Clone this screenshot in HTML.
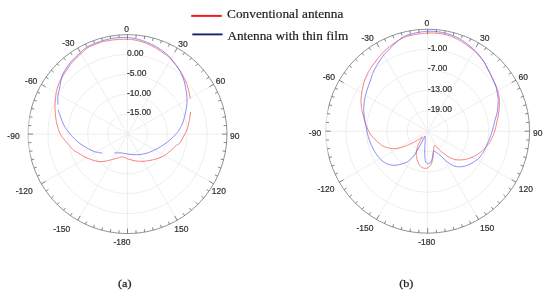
<!DOCTYPE html>
<html><head><meta charset="utf-8"><style>
html,body{margin:0;padding:0;background:#fff;}
body{width:550px;height:297px;overflow:hidden;}
svg{display:block;filter:blur(0.3px);}
.g{fill:none;stroke:#eaeaea;stroke-width:0.8;}
.o{fill:none;stroke:#6e6e6e;stroke-width:0.75;}
.t{fill:none;stroke:#666;stroke-width:0.8;}
.rl{font-family:"Liberation Sans",Arial,sans-serif;font-size:8.5px;fill:#2e2e2e;stroke:#2e2e2e;stroke-width:0.2px;}
.al{font-family:"Liberation Sans",Arial,sans-serif;font-size:8.5px;fill:#2e2e2e;stroke:#2e2e2e;stroke-width:0.2px;text-anchor:middle;}
.cr{fill:none;stroke:#f45c5c;stroke-width:0.8;stroke-linejoin:round;}
.cb{fill:none;stroke:#6a6af5;stroke-width:0.8;stroke-linejoin:round;}
.lg{font-family:"Liberation Serif","Times New Roman",serif;font-size:13.5px;fill:#222;stroke:#222;stroke-width:0.2px;}
.cap{font-family:"Liberation Serif","Times New Roman",serif;font-size:11.3px;fill:#222;stroke:#222;stroke-width:0.25px;}
</style></head><body>
<svg width="550" height="297" viewBox="0 0 550 297">
<circle cx="127.5" cy="134.1" r="19.9" class="g"/>
<circle cx="127.5" cy="134.1" r="39.8" class="g"/>
<circle cx="127.5" cy="134.1" r="59.7" class="g"/>
<circle cx="127.5" cy="134.1" r="79.6" class="g"/>
<line x1="127.5" y1="134.1" x2="127.5" y2="34.6" class="g"/>
<line x1="127.5" y1="134.1" x2="177.25" y2="47.93" class="g"/>
<line x1="127.5" y1="134.1" x2="213.67" y2="84.35" class="g"/>
<line x1="127.5" y1="134.1" x2="227" y2="134.1" class="g"/>
<line x1="127.5" y1="134.1" x2="213.67" y2="183.85" class="g"/>
<line x1="127.5" y1="134.1" x2="177.25" y2="220.27" class="g"/>
<line x1="127.5" y1="134.1" x2="127.5" y2="233.6" class="g"/>
<line x1="127.5" y1="134.1" x2="77.75" y2="220.27" class="g"/>
<line x1="127.5" y1="134.1" x2="41.33" y2="183.85" class="g"/>
<line x1="127.5" y1="134.1" x2="28" y2="134.1" class="g"/>
<line x1="127.5" y1="134.1" x2="41.33" y2="84.35" class="g"/>
<line x1="127.5" y1="134.1" x2="77.75" y2="47.93" class="g"/>
<linearGradient id="fd127" gradientUnits="userSpaceOnUse" x1="28" y1="0" x2="31" y2="0"><stop offset="0" stop-color="#a8a8a8"/><stop offset="0.4" stop-color="#a8a8a8"/><stop offset="1" stop-color="#6e6e6e"/></linearGradient>
<circle cx="127.5" cy="134.1" r="99.5" class="o" style="stroke:url(#fd127)"/>
<path d="M127.5,34.6L127.5,39.6M136.17,34.98L135.91,37.97M144.78,36.11L144.26,39.07M153.25,37.99L152.48,40.89M161.53,40.6L160.5,43.42M169.55,43.92L168.28,46.64M177.25,47.93L174.75,52.26M184.57,52.59L182.85,55.05M191.46,57.88L189.53,60.18M197.86,63.74L195.74,65.86M203.72,70.14L201.42,72.07M209.01,77.03L206.55,78.75M213.67,84.35L209.34,86.85M217.68,92.05L214.96,93.32M221,100.07L218.18,101.1M223.61,108.35L220.71,109.12M225.49,116.82L222.53,117.34M226.62,125.43L223.63,125.69M227,134.1L222,134.1M226.62,142.77L223.63,142.51M225.49,151.38L222.53,150.86M223.61,159.85L220.71,159.08M221,168.13L218.18,167.1M217.68,176.15L214.96,174.88M213.67,183.85L209.34,181.35M209.01,191.17L206.55,189.45M203.72,198.06L201.42,196.13M197.86,204.46L195.74,202.34M191.46,210.32L189.53,208.02M184.57,215.61L182.85,213.15M177.25,220.27L174.75,215.94M169.55,224.28L168.28,221.56M161.53,227.6L160.5,224.78M153.25,230.21L152.48,227.31M144.78,232.09L144.26,229.13M136.17,233.22L135.91,230.23M127.5,233.6L127.5,228.6M118.83,233.22L119.09,230.23M110.22,232.09L110.74,229.13M101.75,230.21L102.52,227.31M93.47,227.6L94.5,224.78M85.45,224.28L86.72,221.56M77.75,220.27L80.25,215.94M70.43,215.61L72.15,213.15M63.54,210.32L65.47,208.02M57.14,204.46L59.26,202.34M51.28,198.06L53.58,196.13M45.99,191.17L48.45,189.45M41.33,183.85L45.66,181.35M37.32,176.15L40.04,174.88M34,168.13L36.82,167.1M31.39,159.85L34.29,159.08M29.51,151.38L32.47,150.86M28.38,142.77L31.37,142.51M28,134.1L33,134.1M28.38,125.43L31.37,125.69M29.51,116.82L32.47,117.34M31.39,108.35L34.29,109.12M34,100.07L36.82,101.1M37.32,92.05L40.04,93.32M41.33,84.35L45.66,86.85M45.99,77.03L48.45,78.75M51.28,70.14L53.58,72.07M57.14,63.74L59.26,65.86M63.54,57.88L65.47,60.18M70.43,52.59L72.15,55.05M77.75,47.93L80.25,52.26M85.45,43.92L86.72,46.64M93.47,40.6L94.5,43.42M101.75,37.99L102.52,40.89M110.22,36.11L110.74,39.07M118.83,34.98L119.09,37.97" class="t"/>
<text x="127" y="55.7" class="rl">0.00</text>
<text x="127" y="75.6" class="rl">-5.00</text>
<text x="127" y="95.5" class="rl">-10.00</text>
<text x="127" y="115.4" class="rl">-15.00</text>
<text x="126.7" y="32.39" class="al">0</text>
<text x="68.3" y="46.44" class="al">-30</text>
<text x="183" y="46.54" class="al">30</text>
<text x="31.2" y="84.24" class="al">-60</text>
<text x="220.5" y="84.24" class="al">60</text>
<text x="13.5" y="138.64" class="al">-90</text>
<text x="234.8" y="138.64" class="al">90</text>
<text x="24.2" y="194.24" class="al">-120</text>
<text x="218.9" y="194.24" class="al">120</text>
<text x="61.7" y="231.64" class="al">-150</text>
<text x="181.3" y="231.54" class="al">150</text>
<text x="121.9" y="245.04" class="al">-180</text>
<circle cx="427.6" cy="131.2" r="20.4" class="g"/>
<circle cx="427.6" cy="131.2" r="40.8" class="g"/>
<circle cx="427.6" cy="131.2" r="61.2" class="g"/>
<circle cx="427.6" cy="131.2" r="81.6" class="g"/>
<line x1="427.6" y1="131.2" x2="427.6" y2="29.2" class="g"/>
<line x1="427.6" y1="131.2" x2="478.6" y2="42.87" class="g"/>
<line x1="427.6" y1="131.2" x2="515.93" y2="80.2" class="g"/>
<line x1="427.6" y1="131.2" x2="529.6" y2="131.2" class="g"/>
<line x1="427.6" y1="131.2" x2="515.93" y2="182.2" class="g"/>
<line x1="427.6" y1="131.2" x2="478.6" y2="219.53" class="g"/>
<line x1="427.6" y1="131.2" x2="427.6" y2="233.2" class="g"/>
<line x1="427.6" y1="131.2" x2="376.6" y2="219.53" class="g"/>
<line x1="427.6" y1="131.2" x2="339.27" y2="182.2" class="g"/>
<line x1="427.6" y1="131.2" x2="325.6" y2="131.2" class="g"/>
<line x1="427.6" y1="131.2" x2="339.27" y2="80.2" class="g"/>
<line x1="427.6" y1="131.2" x2="376.6" y2="42.87" class="g"/>
<linearGradient id="fd427" gradientUnits="userSpaceOnUse" x1="325.6" y1="0" x2="328.6" y2="0"><stop offset="0" stop-color="#d4d4d4"/><stop offset="0.4" stop-color="#d4d4d4"/><stop offset="1" stop-color="#6e6e6e"/></linearGradient>
<circle cx="427.6" cy="131.2" r="102" class="o" style="stroke:url(#fd427)"/>
<path d="M427.6,29.2L427.6,34.2M436.49,29.59L436.23,32.58M445.31,30.75L444.79,33.7M454,32.68L453.22,35.57M462.49,35.35L461.46,38.17M470.71,38.76L469.44,41.48M478.6,42.87L476.1,47.2M486.1,47.65L484.38,50.1M493.16,53.06L491.24,55.36M499.72,59.08L497.6,61.2M505.74,65.64L503.44,67.56M511.15,72.7L508.7,74.42M515.93,80.2L511.6,82.7M520.04,88.09L517.32,89.36M523.45,96.31L520.63,97.34M526.12,104.8L523.23,105.58M528.05,113.49L525.1,114.01M529.21,122.31L526.22,122.57M529.6,131.2L524.6,131.2M529.21,140.09L526.22,139.83M528.05,148.91L525.1,148.39M526.12,157.6L523.23,156.82M523.45,166.09L520.63,165.06M520.04,174.31L517.32,173.04M515.93,182.2L511.6,179.7M511.15,189.7L508.7,187.98M505.74,196.76L503.44,194.84M499.72,203.32L497.6,201.2M493.16,209.34L491.24,207.04M486.1,214.75L484.38,212.3M478.6,219.53L476.1,215.2M470.71,223.64L469.44,220.92M462.49,227.05L461.46,224.23M454,229.72L453.22,226.83M445.31,231.65L444.79,228.7M436.49,232.81L436.23,229.82M427.6,233.2L427.6,228.2M418.71,232.81L418.97,229.82M409.89,231.65L410.41,228.7M401.2,229.72L401.98,226.83M392.71,227.05L393.74,224.23M384.49,223.64L385.76,220.92M376.6,219.53L379.1,215.2M369.1,214.75L370.82,212.3M362.04,209.34L363.96,207.04M355.48,203.32L357.6,201.2M349.46,196.76L351.76,194.84M344.05,189.7L346.5,187.98M339.27,182.2L343.6,179.7M335.16,174.31L337.88,173.04M331.75,166.09L334.57,165.06M329.08,157.6L331.97,156.82M327.15,148.91L330.1,148.39M325.99,140.09L328.98,139.83M325.6,131.2L330.6,131.2M325.99,122.31L328.98,122.57M327.15,113.49L330.1,114.01M329.08,104.8L331.97,105.58M331.75,96.31L334.57,97.34M335.16,88.09L337.88,89.36M339.27,80.2L343.6,82.7M344.05,72.7L346.5,74.42M349.46,65.64L351.76,67.56M355.48,59.08L357.6,61.2M362.04,53.06L363.96,55.36M369.1,47.65L370.82,50.1M376.6,42.87L379.1,47.2M384.49,38.76L385.76,41.48M392.71,35.35L393.74,38.17M401.2,32.68L401.98,35.57M409.89,30.75L410.41,33.7M418.71,29.59L418.97,32.58" class="t"/>
<text x="427.8" y="50.8" class="rl">-1.00</text>
<text x="427.8" y="71.2" class="rl">-7.00</text>
<text x="427.8" y="91.6" class="rl">-13.00</text>
<text x="427.8" y="112" class="rl">-19.00</text>
<text x="426.8" y="26.34" class="al">0</text>
<text x="367.6" y="40.94" class="al">-30</text>
<text x="484.7" y="41.04" class="al">30</text>
<text x="328.9" y="79.64" class="al">-60</text>
<text x="523.2" y="79.54" class="al">60</text>
<text x="315" y="135.94" class="al">-90</text>
<text x="537.8" y="135.94" class="al">90</text>
<text x="326" y="192.24" class="al">-120</text>
<text x="525.8" y="192.24" class="al">120</text>
<text x="364.9" y="231.04" class="al">-150</text>
<text x="487.1" y="231.04" class="al">150</text>
<text x="426.7" y="244.74" class="al">-180</text>
<path d="M127.3,39.3 128.37,39.33 129.36,39.38 130.3,39.43 131.21,39.51 132.11,39.61 133.04,39.73 134.03,39.9 135.1,40.1 136.25,40.34 137.46,40.61 138.72,40.92 140.01,41.25 141.31,41.62 142.62,42.01 143.92,42.44 145.2,42.9 146.47,43.39 147.73,43.92 149.01,44.48 150.28,45.07 151.54,45.69 152.8,46.33 154.06,47 155.3,47.7 156.56,48.45 157.86,49.26 159.17,50.11 160.46,50.99 161.72,51.86 162.91,52.7 164.01,53.49 165,54.2 165.84,54.79 166.52,55.27 167.1,55.68 167.63,56.08 168.15,56.49 168.7,56.99 169.34,57.61 170.1,58.4 171.01,59.38 172.03,60.51 173.12,61.76 174.25,63.08 175.39,64.45 176.5,65.84 177.55,67.2 178.5,68.5 179.37,69.77 180.21,71.06 181.01,72.36 181.77,73.66 182.49,74.94 183.17,76.19 183.8,77.42 184.4,78.6 184.94,79.71 185.43,80.75 185.86,81.74 186.26,82.71 186.64,83.7 186.99,84.72 187.34,85.81 187.7,87 188.07,88.32 188.43,89.77 188.79,91.31 189.13,92.87 189.45,94.42 189.74,95.9 189.99,97.28 190.2,98.5M190.5,112 190.41,112.97 190.31,113.97 190.19,114.99 190.05,116.04 189.89,117.1 189.72,118.18 189.52,119.28 189.3,120.4 189.08,121.52 188.86,122.65 188.64,123.78 188.39,124.94 188.1,126.13 187.75,127.37 187.32,128.65 186.8,130 186.14,131.49 185.35,133.15 184.46,134.9 183.52,136.68 182.57,138.4 181.66,139.99 180.82,141.38 180.1,142.5 179.51,143.3 179.02,143.83 178.6,144.17 178.22,144.38 177.85,144.52 177.45,144.68 177.01,144.92 176.5,145.3 175.93,145.8 175.34,146.35 174.72,146.93 174.07,147.54 173.39,148.18 172.68,148.84 171.91,149.52 171.1,150.2 170.23,150.92 169.32,151.71 168.36,152.52 167.36,153.35 166.32,154.16 165.27,154.94 164.19,155.66 163.1,156.3 161.98,156.86 160.83,157.36 159.64,157.82 158.44,158.23 157.22,158.61 156,158.96 154.79,159.29 153.6,159.6 152.41,159.89 151.21,160.16 150.01,160.4 148.81,160.62 147.62,160.81 146.45,160.97 145.31,161.1 144.2,161.2 143.13,161.27 142.1,161.32 141.1,161.34 140.12,161.33 139.15,161.29 138.17,161.23 137.2,161.13 136.2,161 135.17,160.83 134.12,160.61 133.05,160.35 131.99,160.07 130.94,159.77 129.94,159.47 128.98,159.18 128.1,158.9 127.28,158.62 126.5,158.31 125.76,157.99 125.06,157.68 124.41,157.39 123.8,157.14 123.23,156.93 122.7,156.8 122.25,156.74 121.9,156.74 121.62,156.79 121.36,156.88 121.11,156.99 120.82,157.12 120.46,157.26 120,157.4 119.46,157.54 118.89,157.69 118.28,157.86 117.62,158.04 116.91,158.24 116.14,158.45 115.3,158.67 114.4,158.9 113.4,159.16 112.29,159.47 111.1,159.8 109.86,160.14 108.6,160.47 107.35,160.77 106.14,161.02 105,161.2 103.94,161.33 102.94,161.45 101.98,161.53 101.03,161.57 100.07,161.56 99.08,161.51 98.03,161.39 96.9,161.2 95.67,160.93 94.35,160.58 92.96,160.16 91.55,159.69 90.14,159.19 88.75,158.66 87.43,158.13 86.2,157.6 85.04,157.05 83.91,156.46 82.83,155.84 81.78,155.21 80.78,154.58 79.83,153.97 78.94,153.41 78.1,152.9 77.33,152.46 76.63,152.07 75.99,151.72 75.4,151.39 74.85,151.07 74.32,150.75 73.81,150.39 73.3,150 72.82,149.57 72.37,149.12 71.96,148.65 71.57,148.16 71.19,147.67 70.8,147.18 70.41,146.69 70,146.2 69.58,145.74 69.18,145.3 68.78,144.87 68.38,144.43 67.95,143.97 67.51,143.47 67.03,142.92 66.5,142.3 65.91,141.61 65.26,140.85 64.56,140.05 63.84,139.21 63.13,138.34 62.43,137.44 61.78,136.52 61.2,135.6 60.67,134.66 60.18,133.7 59.72,132.72 59.29,131.72 58.89,130.69 58.51,129.65 58.15,128.58 57.8,127.5 57.47,126.38 57.17,125.21 56.89,124.01 56.63,122.8 56.39,121.59 56.18,120.39 55.98,119.22 55.8,118.1 55.65,117.02 55.52,115.95 55.41,114.91 55.32,113.88 55.25,112.88 55.2,111.9 55.15,110.94 55.1,110 55.06,109.11 55.03,108.29 55.01,107.5 55,106.73 55,105.95 55.02,105.13 55.05,104.26 55.1,103.3 55.16,102.25 55.22,101.14 55.3,99.98 55.39,98.78 55.51,97.55 55.64,96.32 55.8,95.1 56,93.9 56.22,92.71 56.46,91.52 56.72,90.32 57.01,89.12 57.33,87.92 57.68,86.74 58.07,85.56 58.5,84.4 58.96,83.28 59.44,82.21 59.94,81.17 60.49,80.13 61.08,79.06 61.72,77.95 62.43,76.77 63.2,75.5 64.05,74.11 64.97,72.63 65.94,71.07 66.97,69.46 68.05,67.84 69.17,66.24 70.32,64.68 71.5,63.2 72.76,61.75 74.12,60.28 75.55,58.82 77.01,57.39 78.44,56.02 79.81,54.73 81.08,53.55 82.2,52.5 83.15,51.6 83.96,50.83 84.67,50.16 85.31,49.58 85.93,49.06 86.56,48.57 87.24,48.09 88,47.6 88.84,47.11 89.72,46.67 90.63,46.25 91.56,45.86 92.5,45.48 93.45,45.12 94.38,44.76 95.3,44.4 96.2,44.04 97.1,43.68 98,43.33 98.9,42.99 99.8,42.66 100.7,42.35 101.6,42.06 102.5,41.8 103.41,41.56 104.32,41.35 105.23,41.16 106.14,40.99 107.06,40.83 107.97,40.68 108.89,40.54 109.8,40.4 110.69,40.27 111.56,40.15 112.41,40.03 113.27,39.93 114.15,39.84 115.07,39.75 116.05,39.67 117.1,39.6 118.25,39.53 119.5,39.46 120.82,39.4 122.17,39.35 123.52,39.31 124.85,39.29 126.12,39.28 127.3,39.3" class="cr"/>
<path d="M127.3,37.5 128.37,37.56 129.36,37.63 130.3,37.73 131.21,37.84 132.11,37.99 133.04,38.16 134.03,38.36 135.1,38.6 136.25,38.87 137.46,39.18 138.72,39.52 140.01,39.88 141.31,40.27 142.62,40.69 143.92,41.14 145.2,41.6 146.47,42.09 147.73,42.59 149.01,43.12 150.28,43.68 151.54,44.27 152.8,44.88 154.06,45.52 155.3,46.2 156.56,46.93 157.86,47.73 159.17,48.57 160.46,49.43 161.72,50.3 162.91,51.14 164.01,51.95 165,52.7 165.84,53.35 166.52,53.9 167.1,54.39 167.63,54.88 168.15,55.39 168.7,55.99 169.34,56.71 170.1,57.6 171.02,58.68 172.05,59.91 173.16,61.27 174.31,62.7 175.45,64.18 176.56,65.66 177.59,67.12 178.5,68.5 179.3,69.83 180.05,71.14 180.73,72.44 181.37,73.74 181.96,75.04 182.51,76.35 183.02,77.67 183.5,79 183.94,80.36 184.34,81.74 184.69,83.13 185,84.53 185.28,85.93 185.54,87.31 185.78,88.67 186,90 186.21,91.3 186.4,92.57 186.57,93.82 186.72,95.06 186.84,96.29 186.93,97.52 186.98,98.76 187,100 186.98,101.24 186.94,102.45 186.86,103.66 186.75,104.88 186.61,106.1 186.44,107.36 186.23,108.65 186,110 185.73,111.43 185.41,112.95 185.07,114.53 184.69,116.12 184.29,117.71 183.87,119.23 183.44,120.68 183,122 182.54,123.22 182.04,124.39 181.51,125.5 180.97,126.54 180.43,127.51 179.92,128.42 179.44,129.25 179,130 178.64,130.62 178.37,131.1 178.14,131.47 177.92,131.78 177.68,132.09 177.39,132.43 177,132.85 176.5,133.4 175.88,134.08 175.18,134.84 174.41,135.67 173.58,136.54 172.69,137.44 171.76,138.35 170.8,139.24 169.8,140.1 168.76,140.95 167.67,141.81 166.53,142.67 165.36,143.53 164.15,144.38 162.91,145.22 161.66,146.02 160.4,146.8 159.11,147.56 157.77,148.31 156.39,149.06 155,149.78 153.61,150.46 152.23,151.1 150.89,151.68 149.6,152.2 148.36,152.65 147.15,153.05 145.97,153.39 144.81,153.69 143.66,153.94 142.52,154.16 141.37,154.34 140.2,154.5 139,154.62 137.76,154.68 136.5,154.71 135.25,154.7 134.03,154.67 132.87,154.62 131.78,154.56 130.8,154.5 129.93,154.43 129.17,154.33 128.48,154.22 127.85,154.09 127.25,153.96 126.66,153.83 126.05,153.71 125.4,153.6 124.73,153.5 124.05,153.39 123.38,153.29 122.71,153.19 122.04,153.1 121.36,153.02 120.68,152.95 120,152.9 119.32,152.86 118.63,152.84 117.95,152.84 117.26,152.84 116.57,152.85 115.86,152.86 115.14,152.88 114.4,152.9M102.3,153.1 101.4,152.99 100.44,152.86 99.43,152.72 98.39,152.54 97.34,152.34 96.27,152.1 95.22,151.83 94.2,151.5 93.2,151.12 92.2,150.7 91.2,150.24 90.2,149.74 89.2,149.21 88.2,148.65 87.2,148.08 86.2,147.5 85.19,146.91 84.17,146.3 83.15,145.67 82.12,145.02 81.11,144.35 80.09,143.64 79.09,142.89 78.1,142.1 77.12,141.26 76.13,140.37 75.14,139.44 74.17,138.48 73.21,137.5 72.28,136.5 71.37,135.5 70.5,134.5 69.66,133.5 68.83,132.48 68.03,131.44 67.25,130.4 66.5,129.35 65.79,128.3 65.12,127.25 64.5,126.2 63.93,125.15 63.41,124.09 62.93,123.03 62.48,121.97 62.06,120.91 61.67,119.86 61.28,118.82 60.9,117.8 60.52,116.78 60.15,115.75 59.79,114.73 59.45,113.71 59.14,112.72 58.85,111.77 58.6,110.86 58.4,110M58,104.6 57.95,103.72 57.89,102.76 57.83,101.76 57.77,100.71 57.73,99.65 57.71,98.58 57.73,97.53 57.8,96.5 57.91,95.53 58.06,94.62 58.24,93.73 58.45,92.84 58.68,91.9 58.94,90.88 59.21,89.76 59.5,88.5 59.78,87.07 60.04,85.49 60.31,83.8 60.61,82.03 60.95,80.23 61.37,78.43 61.88,76.68 62.5,75 63.24,73.38 64.08,71.77 65,70.17 66,68.59 67.06,67.03 68.17,65.5 69.32,63.98 70.5,62.5 71.76,61.01 73.14,59.5 74.6,58 76.09,56.53 77.57,55.12 79,53.79 80.32,52.58 81.5,51.5 82.52,50.58 83.42,49.79 84.23,49.11 84.98,48.51 85.7,47.98 86.42,47.48 87.18,47 88,46.5 88.87,46.01 89.77,45.56 90.68,45.14 91.61,44.75 92.53,44.38 93.46,44.02 94.39,43.66 95.3,43.3 96.2,42.94 97.1,42.59 98,42.25 98.9,41.91 99.8,41.59 100.7,41.28 101.6,40.98 102.5,40.7 103.41,40.43 104.32,40.18 105.23,39.94 106.14,39.71 107.06,39.49 107.97,39.28 108.89,39.09 109.8,38.9 110.69,38.72 111.56,38.56 112.41,38.4 113.27,38.26 114.15,38.12 115.07,38 116.05,37.89 117.1,37.8 118.25,37.71 119.5,37.64 120.82,37.57 122.17,37.51 123.52,37.47 124.85,37.46 126.12,37.47 127.3,37.5" class="cb"/>
<path d="M430,33 431.19,33 432.42,33.02 433.68,33.05 434.96,33.11 436.25,33.18 437.54,33.29 438.83,33.43 440.1,33.6 441.36,33.81 442.62,34.04 443.89,34.3 445.15,34.59 446.41,34.92 447.68,35.28 448.94,35.67 450.2,36.1 451.47,36.57 452.73,37.07 454.01,37.61 455.27,38.19 456.54,38.79 457.8,39.43 459.06,40.1 460.3,40.8 461.55,41.55 462.82,42.36 464.1,43.21 465.36,44.09 466.6,44.97 467.8,45.85 468.93,46.7 470,47.5 470.98,48.24 471.88,48.93 472.73,49.6 473.53,50.25 474.31,50.92 475.09,51.62 475.88,52.37 476.7,53.2 477.56,54.11 478.44,55.08 479.32,56.09 480.21,57.14 481.08,58.22 481.92,59.31 482.74,60.41 483.5,61.5 484.22,62.59 484.9,63.71 485.54,64.85 486.16,65.99 486.76,67.13 487.35,68.27 487.93,69.39 488.5,70.5 489.07,71.59 489.62,72.67 490.16,73.74 490.68,74.81 491.2,75.86 491.7,76.91 492.2,77.96 492.7,79 493.19,80.02 493.69,81.01 494.17,81.99 494.65,82.96 495.12,83.95 495.56,84.96 495.99,86 496.4,87.1 496.79,88.27 497.18,89.52 497.55,90.81 497.91,92.12 498.23,93.42 498.53,94.69 498.79,95.89 499,97 499.16,98.01 499.28,98.93 499.36,99.79 499.4,100.62 499.42,101.43 499.42,102.25 499.41,103.1 499.4,104 499.38,104.95 499.34,105.92 499.29,106.91 499.22,107.92 499.14,108.93 499.04,109.96 498.93,110.98 498.8,112 498.65,113.01 498.48,114.02 498.3,115.03 498.1,116.04 497.89,117.07 497.67,118.12 497.44,119.19 497.2,120.3 496.96,121.46 496.71,122.67 496.45,123.91 496.19,125.17 495.91,126.43 495.62,127.66 495.32,128.86 495,130 494.66,131.11 494.29,132.2 493.91,133.28 493.52,134.32 493.12,135.33 492.73,136.29 492.36,137.18 492,138 491.67,138.73 491.38,139.36 491.09,139.92 490.81,140.44 490.53,140.93 490.22,141.42 489.88,141.94 489.5,142.5 489.07,143.11 488.59,143.75 488.09,144.4 487.56,145.06 487.03,145.71 486.5,146.34 485.99,146.94 485.5,147.5 485.05,148.01 484.64,148.47 484.25,148.9 483.86,149.31 483.46,149.71 483.03,150.12 482.54,150.54 482,151 481.39,151.49 480.74,152 480.05,152.53 479.32,153.06 478.56,153.59 477.79,154.12 477,154.62 476.2,155.1 475.38,155.56 474.54,156.03 473.67,156.48 472.78,156.92 471.89,157.34 470.99,157.73 470.09,158.08 469.2,158.4 468.32,158.68 467.43,158.92 466.54,159.14 465.66,159.33 464.77,159.48 463.88,159.61 462.99,159.72 462.1,159.8 461.21,159.86 460.32,159.91 459.43,159.93 458.54,159.93 457.65,159.88 456.76,159.8 455.88,159.68 455,159.5 454.13,159.27 453.27,158.99 452.41,158.67 451.55,158.31 450.69,157.91 449.83,157.47 448.97,157 448.1,156.5 447.2,155.94 446.25,155.3 445.29,154.61 444.34,153.89 443.41,153.16 442.53,152.46 441.72,151.8 441,151.2 440.38,150.66 439.85,150.15 439.38,149.66 438.96,149.2 438.57,148.77 438.21,148.35 437.86,147.97 437.5,147.6 437.14,147.24 436.79,146.89 436.46,146.55 436.15,146.24 435.86,145.97 435.58,145.74 435.33,145.58 435.1,145.5 434.9,145.48 434.72,145.5 434.57,145.58 434.44,145.71 434.33,145.91 434.22,146.17 434.11,146.5 434,146.9 433.89,147.4 433.8,147.99 433.71,148.67 433.62,149.4 433.54,150.18 433.47,150.98 433.38,151.8 433.3,152.6 433.22,153.42 433.16,154.29 433.1,155.19 433.04,156.1 432.97,157.01 432.87,157.91 432.75,158.78 432.6,159.6 432.41,160.39 432.21,161.18 431.98,161.96 431.73,162.71 431.46,163.43 431.16,164.11 430.84,164.74 430.5,165.3 430.13,165.81 429.72,166.28 429.29,166.7 428.83,167.08 428.36,167.4 427.88,167.69 427.39,167.92 426.9,168.1 426.4,168.23 425.88,168.31 425.34,168.34 424.79,168.32 424.25,168.26 423.71,168.15 423.2,168 422.7,167.8 422.22,167.55 421.74,167.25 421.27,166.89 420.82,166.49 420.38,166.06 419.96,165.59 419.57,165.11 419.2,164.6 418.86,164.07 418.55,163.49 418.25,162.88 417.98,162.25 417.73,161.6 417.5,160.93 417.29,160.27 417.1,159.6 416.93,158.93 416.77,158.24 416.63,157.55 416.52,156.84 416.43,156.13 416.36,155.42 416.31,154.71 416.3,154 416.31,153.29 416.36,152.58 416.43,151.87 416.52,151.15 416.63,150.43 416.77,149.72 416.93,149.01 417.1,148.3 417.29,147.6 417.51,146.89 417.74,146.19 418,145.49 418.27,144.8 418.57,144.1 418.88,143.4 419.2,142.7 419.59,141.95 420.06,141.14 420.57,140.29 421.09,139.46 421.57,138.69 421.98,138.01 422.27,137.47 422.4,137.1 422.37,136.93 422.22,136.93 421.96,137.05 421.62,137.28 421.22,137.56 420.79,137.89 420.34,138.21 419.9,138.5 419.46,138.78 418.98,139.1 418.48,139.45 417.94,139.81 417.39,140.19 416.81,140.57 416.21,140.94 415.6,141.3 414.96,141.65 414.28,142.02 413.56,142.38 412.84,142.74 412.11,143.1 411.38,143.45 410.68,143.78 410,144.1 409.37,144.4 408.78,144.68 408.21,144.94 407.64,145.2 407.07,145.45 406.46,145.7 405.81,145.95 405.1,146.2 404.32,146.47 403.47,146.75 402.58,147.03 401.66,147.31 400.73,147.58 399.8,147.82 398.88,148.03 398,148.2 397.15,148.33 396.31,148.45 395.48,148.54 394.66,148.6 393.84,148.63 393.01,148.63 392.16,148.58 391.3,148.5 390.4,148.37 389.46,148.19 388.5,147.98 387.53,147.72 386.58,147.45 385.66,147.15 384.8,146.83 384,146.5 383.3,146.18 382.7,145.88 382.16,145.56 381.65,145.22 381.13,144.84 380.57,144.39 379.94,143.85 379.2,143.2 378.32,142.44 377.33,141.58 376.27,140.64 375.16,139.62 374.06,138.56 372.98,137.46 371.99,136.33 371.1,135.2 370.31,134.04 369.59,132.82 368.91,131.57 368.28,130.28 367.69,128.98 367.14,127.67 366.61,126.38 366.1,125.1 365.62,123.81 365.17,122.46 364.75,121.11 364.37,119.76 364.01,118.44 363.68,117.19 363.38,116.04 363.1,115 362.85,114.13 362.64,113.41 362.47,112.81 362.31,112.26 362.18,111.71 362.05,111.12 361.93,110.43 361.8,109.6 361.66,108.62 361.52,107.53 361.38,106.37 361.25,105.15 361.14,103.9 361.05,102.64 361.01,101.4 361,100.2 361.04,99.03 361.1,97.88 361.2,96.74 361.33,95.59 361.49,94.43 361.67,93.25 361.87,92.04 362.1,90.8 362.35,89.51 362.62,88.17 362.92,86.8 363.24,85.41 363.59,84.02 363.96,82.65 364.37,81.3 364.8,80 365.27,78.73 365.77,77.49 366.29,76.26 366.85,75.05 367.43,73.86 368.03,72.69 368.66,71.53 369.3,70.4 369.97,69.29 370.66,68.22 371.37,67.16 372.11,66.12 372.87,65.1 373.64,64.07 374.41,63.04 375.2,62 376,60.93 376.83,59.84 377.68,58.74 378.54,57.64 379.4,56.56 380.25,55.52 381.09,54.53 381.9,53.6 382.69,52.74 383.47,51.94 384.23,51.18 384.99,50.46 385.74,49.77 386.49,49.1 387.24,48.45 388,47.8 388.74,47.18 389.45,46.61 390.16,46.06 390.86,45.53 391.59,45 392.36,44.46 393.19,43.9 394.1,43.3 395.09,42.64 396.16,41.93 397.29,41.19 398.46,40.44 399.66,39.7 400.85,39 402.04,38.36 403.2,37.8 404.34,37.32 405.47,36.9 406.61,36.53 407.75,36.2 408.89,35.9 410.02,35.62 411.16,35.36 412.3,35.1 413.44,34.85 414.59,34.62 415.73,34.41 416.88,34.22 418.02,34.04 419.16,33.88 420.29,33.74 421.4,33.6 422.49,33.47 423.55,33.36 424.6,33.26 425.64,33.17 426.69,33.1 427.76,33.04 428.86,33.01 430,33" class="cr"/>
<path d="M430,31.2 431.19,31.22 432.42,31.27 433.68,31.35 434.96,31.44 436.25,31.57 437.54,31.72 438.83,31.9 440.1,32.1 441.36,32.33 442.62,32.59 443.89,32.87 445.15,33.18 446.41,33.52 447.68,33.88 448.94,34.28 450.2,34.7 451.47,35.15 452.73,35.61 454.01,36.1 455.27,36.62 456.54,37.17 457.8,37.77 459.06,38.41 460.3,39.1 461.55,39.86 462.82,40.71 464.1,41.6 465.36,42.54 466.6,43.48 467.8,44.43 468.93,45.34 470,46.2 470.98,47 471.88,47.76 472.73,48.49 473.53,49.21 474.31,49.94 475.09,50.7 475.88,51.52 476.7,52.4 477.56,53.36 478.44,54.36 479.32,55.42 480.21,56.51 481.08,57.62 481.92,58.74 482.74,59.88 483.5,61 484.22,62.14 484.9,63.3 485.54,64.48 486.16,65.66 486.76,66.85 487.35,68.02 487.93,69.18 488.5,70.3 489.07,71.39 489.62,72.46 490.17,73.52 490.7,74.56 491.22,75.59 491.72,76.62 492.22,77.66 492.7,78.7 493.17,79.74 493.64,80.76 494.1,81.78 494.55,82.81 494.98,83.84 495.38,84.89 495.76,85.98 496.1,87.1 496.41,88.3 496.7,89.58 496.96,90.92 497.19,92.26 497.41,93.58 497.59,94.83 497.76,95.99 497.9,97 498.02,97.83 498.11,98.48 498.18,99.01 498.22,99.49 498.25,99.97 498.25,100.51 498.23,101.17 498.2,102 498.15,103.02 498.07,104.19 497.97,105.46 497.86,106.79 497.72,108.15 497.56,109.5 497.39,110.8 497.2,112 496.98,113.11 496.74,114.16 496.48,115.17 496.19,116.16 495.9,117.15 495.6,118.15 495.3,119.2 495,120.3 494.7,121.48 494.4,122.71 494.09,123.99 493.78,125.28 493.47,126.57 493.15,127.84 492.82,129.05 492.5,130.2 492.17,131.28 491.85,132.32 491.52,133.31 491.18,134.28 490.84,135.23 490.5,136.16 490.15,137.08 489.8,138 489.44,138.92 489.07,139.83 488.69,140.73 488.31,141.61 487.92,142.48 487.54,143.34 487.17,144.18 486.8,145 486.45,145.79 486.13,146.56 485.81,147.3 485.49,148.03 485.17,148.76 484.81,149.49 484.43,150.23 484,151 483.51,151.81 482.97,152.67 482.38,153.56 481.78,154.44 481.17,155.3 480.58,156.12 480.02,156.86 479.5,157.5 479.06,158.03 478.68,158.45 478.34,158.8 478.01,159.1 477.66,159.38 477.26,159.68 476.78,160 476.2,160.4 475.5,160.87 474.71,161.39 473.85,161.94 472.94,162.5 471.99,163.06 471.04,163.59 470.11,164.08 469.2,164.5 468.32,164.87 467.43,165.22 466.54,165.54 465.66,165.83 464.77,166.08 463.88,166.29 462.99,166.47 462.1,166.6 461.21,166.7 460.32,166.78 459.43,166.82 458.54,166.82 457.65,166.77 456.76,166.68 455.88,166.52 455,166.3 454.13,166.01 453.27,165.66 452.41,165.25 451.55,164.78 450.69,164.27 449.83,163.71 448.97,163.12 448.1,162.5 447.2,161.8 446.25,161 445.29,160.13 444.34,159.24 443.41,158.35 442.53,157.51 441.72,156.75 441,156.1 440.39,155.57 439.86,155.13 439.41,154.76 439.01,154.43 438.63,154.14 438.27,153.87 437.9,153.59 437.5,153.3 437.07,152.98 436.63,152.64 436.18,152.31 435.74,151.99 435.33,151.7 434.94,151.46 434.59,151.29 434.3,151.2 434.07,151.18 433.9,151.21 433.76,151.28 433.66,151.42 433.58,151.61 433.5,151.87 433.41,152.2 433.3,152.6 433.18,153.11 433.07,153.74 432.96,154.45 432.85,155.22 432.73,156.02 432.61,156.8 432.46,157.54 432.3,158.2 432.12,158.81 431.93,159.42 431.73,160.01 431.52,160.57 431.29,161.11 431.05,161.59 430.78,162.03 430.5,162.4 430.18,162.72 429.83,163 429.46,163.24 429.07,163.43 428.68,163.56 428.29,163.64 427.93,163.65 427.6,163.6 427.29,163.48 426.99,163.29 426.69,163.04 426.41,162.73 426.15,162.36 425.91,161.95 425.69,161.49 425.5,161 425.34,160.45 425.21,159.85 425.1,159.19 425.02,158.48 424.95,157.74 424.89,156.98 424.84,156.19 424.8,155.4 424.76,154.58 424.74,153.73 424.73,152.84 424.73,151.94 424.74,151.02 424.76,150.1 424.78,149.19 424.8,148.3 424.83,147.41 424.88,146.5 424.94,145.58 425.01,144.67 425.07,143.77 425.13,142.91 425.17,142.08 425.2,141.3 425.22,140.53 425.23,139.76 425.24,138.99 425.24,138.27 425.23,137.61 425.2,137.05 425.16,136.6 425.1,136.3 425.03,136.16 424.94,136.15 424.84,136.27 424.73,136.48 424.6,136.75 424.45,137.08 424.28,137.44 424.1,137.8 423.9,138.18 423.69,138.61 423.45,139.08 423.21,139.6 422.94,140.15 422.65,140.74 422.34,141.36 422,142 421.63,142.68 421.24,143.41 420.83,144.17 420.39,144.97 419.93,145.79 419.46,146.62 418.99,147.46 418.5,148.3 418,149.17 417.48,150.09 416.94,151.03 416.39,151.98 415.84,152.91 415.29,153.81 414.74,154.65 414.2,155.4 413.68,156.07 413.16,156.68 412.65,157.23 412.14,157.74 411.62,158.22 411.1,158.68 410.56,159.14 410,159.6 409.47,160.06 408.99,160.51 408.52,160.94 408.03,161.36 407.47,161.77 406.83,162.16 406.05,162.54 405.1,162.9 403.94,163.28 402.6,163.71 401.11,164.13 399.53,164.54 397.9,164.89 396.29,165.15 394.74,165.3 393.3,165.3 391.94,165.17 390.62,164.95 389.31,164.63 388.04,164.21 386.79,163.7 385.57,163.1 384.37,162.4 383.2,161.6 382.05,160.69 380.92,159.64 379.81,158.49 378.72,157.26 377.68,155.95 376.67,154.59 375.71,153.2 374.8,151.8 373.94,150.36 373.12,148.84 372.35,147.26 371.61,145.64 370.92,144.01 370.27,142.38 369.66,140.77 369.1,139.2 368.59,137.66 368.14,136.14 367.73,134.63 367.37,133.12 367.03,131.62 366.72,130.11 366.41,128.61 366.1,127.1 365.79,125.54 365.49,123.92 365.21,122.27 364.94,120.63 364.69,119.05 364.46,117.55 364.27,116.19 364.1,115 363.97,114.03 363.86,113.27 363.78,112.66 363.73,112.13 363.69,111.62 363.68,111.07 363.68,110.42 363.7,109.6 363.73,108.62 363.78,107.53 363.85,106.37 363.93,105.15 364.04,103.9 364.17,102.64 364.32,101.4 364.5,100.2 364.71,99.03 364.93,97.88 365.19,96.74 365.46,95.59 365.76,94.43 366.08,93.25 366.43,92.04 366.8,90.8 367.22,89.49 367.69,88.09 368.19,86.65 368.72,85.2 369.24,83.77 369.74,82.41 370.2,81.14 370.6,80 370.92,79.02 371.18,78.18 371.39,77.43 371.57,76.75 371.77,76.08 371.99,75.4 372.26,74.65 372.6,73.8 373,72.87 373.43,71.89 373.9,70.89 374.4,69.84 374.94,68.77 375.52,67.67 376.14,66.55 376.8,65.4 377.54,64.19 378.36,62.88 379.24,61.53 380.15,60.16 381.07,58.81 381.97,57.53 382.82,56.34 383.6,55.3 384.31,54.41 384.96,53.65 385.58,52.98 386.18,52.38 386.77,51.81 387.36,51.25 387.96,50.65 388.6,50 389.24,49.31 389.86,48.62 390.47,47.93 391.09,47.23 391.75,46.51 392.46,45.77 393.24,45 394.1,44.2 395.07,43.33 396.12,42.38 397.25,41.39 398.43,40.39 399.63,39.4 400.84,38.47 402.04,37.63 403.2,36.9 404.34,36.29 405.47,35.78 406.61,35.34 407.75,34.96 408.89,34.62 410.02,34.31 411.16,34 412.3,33.7 413.44,33.4 414.59,33.13 415.73,32.87 416.88,32.64 418.02,32.43 419.16,32.24 420.29,32.06 421.4,31.9 422.49,31.75 423.55,31.61 424.6,31.49 425.64,31.38 426.69,31.3 427.76,31.24 428.86,31.2 430,31.2" class="cb"/>
<line x1="191.2" y1="15.9" x2="221.8" y2="15.9" stroke="#f41a1a" stroke-width="2"/>
<line x1="192.3" y1="34.4" x2="222.6" y2="34.4" stroke="#142472" stroke-width="1.9"/>
<text x="227.1" y="18.0" class="lg" textLength="116.2" lengthAdjust="spacingAndGlyphs">Conventional antenna</text>
<text x="227.4" y="40.1" class="lg" textLength="120.8" lengthAdjust="spacingAndGlyphs">Antenna with thin film</text>
<text x="117.9" y="286.5" class="cap" textLength="13.6" lengthAdjust="spacingAndGlyphs">(a)</text>
<text x="399.2" y="286.5" class="cap" textLength="14.2" lengthAdjust="spacingAndGlyphs">(b)</text>
</svg>
</body></html>
